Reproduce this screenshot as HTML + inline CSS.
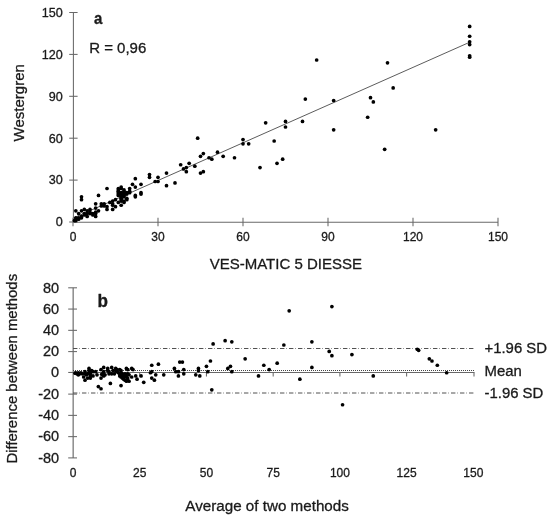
<!DOCTYPE html>
<html lang="en"><head><meta charset="utf-8"><title>Figure</title>
<style>html,body{margin:0;padding:0;background:#fff}body{width:550px;height:519px;overflow:hidden}</style></head>
<body>
<svg width="550" height="519" viewBox="0 0 550 519" style="display:block">
<rect width="550" height="519" fill="#fff"/>
<g stroke="#686868" stroke-width="1.05" fill="none">
<line x1="73.4" y1="12.495000000000005" x2="73.4" y2="222.0"/>
<line x1="73.4" y1="222.25" x2="497.995" y2="222.25"/>
<line x1="69.2" y1="222.00" x2="77.60000000000001" y2="222.00"/>
<line x1="73.00" y1="217.8" x2="73.00" y2="226.2"/>
<line x1="69.2" y1="180.10" x2="77.60000000000001" y2="180.10"/>
<line x1="158.00" y1="217.8" x2="158.00" y2="226.2"/>
<line x1="69.2" y1="138.20" x2="77.60000000000001" y2="138.20"/>
<line x1="243.00" y1="217.8" x2="243.00" y2="226.2"/>
<line x1="69.2" y1="96.30" x2="77.60000000000001" y2="96.30"/>
<line x1="328.00" y1="217.8" x2="328.00" y2="226.2"/>
<line x1="69.2" y1="54.40" x2="77.60000000000001" y2="54.40"/>
<line x1="413.00" y1="217.8" x2="413.00" y2="226.2"/>
<line x1="69.2" y1="12.50" x2="77.60000000000001" y2="12.50"/>
<line x1="498.00" y1="217.8" x2="498.00" y2="226.2"/>
<line x1="74.42" y1="217.60" x2="469.66" y2="42.24" stroke="#4a4a4a" stroke-width="0.9"/>
<line x1="73.15" y1="287.80" x2="73.15" y2="457.90" stroke-width="1.15"/>
<line x1="73.0" y1="372.45" x2="474.5" y2="372.45"/>
<line x1="68.2" y1="457.90" x2="77" y2="457.90"/>
<line x1="68.2" y1="436.64" x2="77" y2="436.64"/>
<line x1="68.2" y1="415.37" x2="77" y2="415.37"/>
<line x1="68.2" y1="394.11" x2="77" y2="394.11"/>
<line x1="68.2" y1="372.45" x2="77" y2="372.45"/>
<line x1="68.2" y1="351.59" x2="77" y2="351.59"/>
<line x1="68.2" y1="330.33" x2="77" y2="330.33"/>
<line x1="68.2" y1="309.06" x2="77" y2="309.06"/>
<line x1="68.2" y1="287.80" x2="77" y2="287.80"/>
<line x1="139.72" y1="372.45" x2="139.72" y2="376.45"/>
<line x1="206.45" y1="372.45" x2="206.45" y2="376.45"/>
<line x1="273.18" y1="372.45" x2="273.18" y2="376.45"/>
<line x1="339.90" y1="372.45" x2="339.90" y2="376.45"/>
<line x1="406.62" y1="372.45" x2="406.62" y2="376.45"/>
<line x1="474.00" y1="372.45" x2="474.00" y2="376.45"/>
</g>
<g stroke="#505050" stroke-width="1" fill="none">
<line x1="73.0" y1="348.5" x2="474.5" y2="348.5" stroke-dasharray="4.4 2 0.6 2"/>
<line x1="73.0" y1="393.0" x2="474.5" y2="393.0" stroke-dasharray="4.4 2 0.6 2"/>
<line x1="73.0" y1="370.5" x2="474.5" y2="370.5" stroke-dasharray="1 1" stroke="#444"/>
</g>
<g fill="#000">
<circle cx="74.42" cy="220.60" r="1.85"/>
<circle cx="75.83" cy="220.60" r="1.85"/>
<circle cx="75.83" cy="219.21" r="1.85"/>
<circle cx="75.83" cy="217.81" r="1.85"/>
<circle cx="75.83" cy="210.83" r="1.85"/>
<circle cx="78.67" cy="219.21" r="1.85"/>
<circle cx="78.67" cy="217.81" r="1.85"/>
<circle cx="78.67" cy="213.62" r="1.85"/>
<circle cx="81.50" cy="217.81" r="1.85"/>
<circle cx="81.50" cy="216.41" r="1.85"/>
<circle cx="81.50" cy="210.83" r="1.85"/>
<circle cx="81.50" cy="199.65" r="1.85"/>
<circle cx="81.50" cy="196.86" r="1.85"/>
<circle cx="84.33" cy="215.02" r="1.85"/>
<circle cx="84.33" cy="213.62" r="1.85"/>
<circle cx="84.33" cy="209.43" r="1.85"/>
<circle cx="87.17" cy="216.41" r="1.85"/>
<circle cx="87.17" cy="213.62" r="1.85"/>
<circle cx="87.17" cy="210.83" r="1.85"/>
<circle cx="90.00" cy="213.62" r="1.85"/>
<circle cx="90.00" cy="212.22" r="1.85"/>
<circle cx="90.00" cy="209.43" r="1.85"/>
<circle cx="92.83" cy="215.02" r="1.85"/>
<circle cx="92.83" cy="213.62" r="1.85"/>
<circle cx="95.67" cy="216.41" r="1.85"/>
<circle cx="95.67" cy="213.62" r="1.85"/>
<circle cx="95.67" cy="212.22" r="1.85"/>
<circle cx="95.67" cy="208.03" r="1.85"/>
<circle cx="95.67" cy="203.84" r="1.85"/>
<circle cx="98.50" cy="210.83" r="1.85"/>
<circle cx="98.50" cy="195.46" r="1.85"/>
<circle cx="101.33" cy="205.94" r="1.85"/>
<circle cx="101.33" cy="203.84" r="1.85"/>
<circle cx="104.17" cy="205.94" r="1.85"/>
<circle cx="104.17" cy="203.84" r="1.85"/>
<circle cx="107.00" cy="209.43" r="1.85"/>
<circle cx="107.00" cy="206.64" r="1.85"/>
<circle cx="107.00" cy="188.48" r="1.85"/>
<circle cx="109.83" cy="202.45" r="1.85"/>
<circle cx="112.67" cy="209.43" r="1.85"/>
<circle cx="112.67" cy="205.24" r="1.85"/>
<circle cx="112.67" cy="203.84" r="1.85"/>
<circle cx="112.67" cy="201.05" r="1.85"/>
<circle cx="115.50" cy="206.64" r="1.85"/>
<circle cx="115.50" cy="199.65" r="1.85"/>
<circle cx="118.33" cy="202.45" r="1.85"/>
<circle cx="121.17" cy="205.24" r="1.85"/>
<circle cx="124.00" cy="202.45" r="1.85"/>
<circle cx="118.33" cy="195.46" r="1.85"/>
<circle cx="118.33" cy="194.07" r="1.85"/>
<circle cx="118.33" cy="192.67" r="1.85"/>
<circle cx="118.33" cy="191.27" r="1.85"/>
<circle cx="118.33" cy="189.88" r="1.85"/>
<circle cx="118.33" cy="188.48" r="1.85"/>
<circle cx="121.17" cy="187.08" r="1.85"/>
<circle cx="121.17" cy="188.48" r="1.85"/>
<circle cx="121.17" cy="192.67" r="1.85"/>
<circle cx="121.17" cy="194.07" r="1.85"/>
<circle cx="121.17" cy="195.46" r="1.85"/>
<circle cx="121.17" cy="196.86" r="1.85"/>
<circle cx="121.17" cy="198.26" r="1.85"/>
<circle cx="121.17" cy="199.65" r="1.85"/>
<circle cx="121.17" cy="201.05" r="1.85"/>
<circle cx="124.00" cy="189.88" r="1.85"/>
<circle cx="124.00" cy="191.27" r="1.85"/>
<circle cx="124.00" cy="192.67" r="1.85"/>
<circle cx="124.00" cy="194.07" r="1.85"/>
<circle cx="124.00" cy="195.46" r="1.85"/>
<circle cx="124.00" cy="196.86" r="1.85"/>
<circle cx="124.00" cy="201.05" r="1.85"/>
<circle cx="126.83" cy="192.67" r="1.85"/>
<circle cx="126.83" cy="194.07" r="1.85"/>
<circle cx="126.83" cy="198.26" r="1.85"/>
<circle cx="126.83" cy="199.65" r="1.85"/>
<circle cx="129.67" cy="188.48" r="1.85"/>
<circle cx="129.67" cy="191.27" r="1.85"/>
<circle cx="129.67" cy="192.67" r="1.85"/>
<circle cx="132.50" cy="184.29" r="1.85"/>
<circle cx="135.33" cy="178.70" r="1.85"/>
<circle cx="135.33" cy="187.08" r="1.85"/>
<circle cx="135.33" cy="195.46" r="1.85"/>
<circle cx="135.33" cy="196.86" r="1.85"/>
<circle cx="141.00" cy="184.29" r="1.85"/>
<circle cx="141.00" cy="194.07" r="1.85"/>
<circle cx="141.00" cy="192.67" r="1.85"/>
<circle cx="149.50" cy="174.51" r="1.85"/>
<circle cx="149.50" cy="177.31" r="1.85"/>
<circle cx="155.17" cy="181.50" r="1.85"/>
<circle cx="158.00" cy="181.50" r="1.85"/>
<circle cx="158.00" cy="177.31" r="1.85"/>
<circle cx="166.50" cy="173.12" r="1.85"/>
<circle cx="166.50" cy="185.69" r="1.85"/>
<circle cx="175.00" cy="182.89" r="1.85"/>
<circle cx="180.67" cy="164.74" r="1.85"/>
<circle cx="183.50" cy="168.93" r="1.85"/>
<circle cx="186.33" cy="167.53" r="1.85"/>
<circle cx="186.33" cy="171.72" r="1.85"/>
<circle cx="189.17" cy="163.34" r="1.85"/>
<circle cx="194.83" cy="166.13" r="1.85"/>
<circle cx="197.67" cy="138.20" r="1.85"/>
<circle cx="200.50" cy="156.36" r="1.85"/>
<circle cx="203.33" cy="153.56" r="1.85"/>
<circle cx="200.50" cy="173.12" r="1.85"/>
<circle cx="203.33" cy="171.72" r="1.85"/>
<circle cx="209.00" cy="157.75" r="1.85"/>
<circle cx="211.83" cy="159.15" r="1.85"/>
<circle cx="217.50" cy="152.16" r="1.85"/>
<circle cx="223.16" cy="156.36" r="1.85"/>
<circle cx="234.50" cy="157.75" r="1.85"/>
<circle cx="243.00" cy="139.59" r="1.85"/>
<circle cx="243.00" cy="143.78" r="1.85"/>
<circle cx="248.66" cy="143.78" r="1.85"/>
<circle cx="260.00" cy="167.53" r="1.85"/>
<circle cx="265.66" cy="122.83" r="1.85"/>
<circle cx="274.16" cy="140.99" r="1.85"/>
<circle cx="277.00" cy="163.34" r="1.85"/>
<circle cx="282.66" cy="159.15" r="1.85"/>
<circle cx="285.50" cy="121.44" r="1.85"/>
<circle cx="285.50" cy="127.02" r="1.85"/>
<circle cx="302.50" cy="121.44" r="1.85"/>
<circle cx="305.33" cy="99.09" r="1.85"/>
<circle cx="316.66" cy="59.98" r="1.85"/>
<circle cx="333.66" cy="100.49" r="1.85"/>
<circle cx="333.66" cy="129.82" r="1.85"/>
<circle cx="367.66" cy="117.25" r="1.85"/>
<circle cx="370.50" cy="97.69" r="1.85"/>
<circle cx="373.33" cy="101.88" r="1.85"/>
<circle cx="384.66" cy="149.37" r="1.85"/>
<circle cx="387.50" cy="62.78" r="1.85"/>
<circle cx="393.16" cy="87.92" r="1.85"/>
<circle cx="435.66" cy="129.82" r="1.85"/>
<circle cx="469.66" cy="26.46" r="1.85"/>
<circle cx="469.66" cy="36.24" r="1.85"/>
<circle cx="469.66" cy="41.83" r="1.85"/>
<circle cx="469.66" cy="44.62" r="1.85"/>
<circle cx="469.66" cy="55.79" r="1.85"/>
<circle cx="469.66" cy="57.19" r="1.85"/>
<circle cx="75.00" cy="373.26" r="1.85"/>
<circle cx="75.67" cy="372.73" r="1.85"/>
<circle cx="77.00" cy="373.80" r="1.85"/>
<circle cx="78.34" cy="374.86" r="1.85"/>
<circle cx="85.01" cy="380.20" r="1.85"/>
<circle cx="78.34" cy="372.73" r="1.85"/>
<circle cx="79.67" cy="373.80" r="1.85"/>
<circle cx="83.68" cy="377.00" r="1.85"/>
<circle cx="81.01" cy="372.73" r="1.85"/>
<circle cx="82.34" cy="373.80" r="1.85"/>
<circle cx="87.68" cy="378.07" r="1.85"/>
<circle cx="98.36" cy="386.60" r="1.85"/>
<circle cx="101.02" cy="388.74" r="1.85"/>
<circle cx="85.01" cy="373.80" r="1.85"/>
<circle cx="86.34" cy="374.86" r="1.85"/>
<circle cx="90.35" cy="378.07" r="1.85"/>
<circle cx="85.01" cy="371.66" r="1.85"/>
<circle cx="87.68" cy="373.80" r="1.85"/>
<circle cx="90.35" cy="375.93" r="1.85"/>
<circle cx="89.01" cy="372.73" r="1.85"/>
<circle cx="90.35" cy="373.80" r="1.85"/>
<circle cx="93.02" cy="375.93" r="1.85"/>
<circle cx="89.01" cy="370.60" r="1.85"/>
<circle cx="90.35" cy="371.66" r="1.85"/>
<circle cx="89.01" cy="368.46" r="1.85"/>
<circle cx="91.68" cy="370.60" r="1.85"/>
<circle cx="93.02" cy="371.66" r="1.85"/>
<circle cx="97.02" cy="374.86" r="1.85"/>
<circle cx="101.02" cy="378.07" r="1.85"/>
<circle cx="95.69" cy="371.66" r="1.85"/>
<circle cx="110.37" cy="383.40" r="1.85"/>
<circle cx="101.69" cy="374.33" r="1.85"/>
<circle cx="103.69" cy="375.93" r="1.85"/>
<circle cx="103.03" cy="373.26" r="1.85"/>
<circle cx="105.03" cy="374.86" r="1.85"/>
<circle cx="101.02" cy="369.53" r="1.85"/>
<circle cx="103.69" cy="371.66" r="1.85"/>
<circle cx="121.04" cy="385.54" r="1.85"/>
<circle cx="109.03" cy="373.80" r="1.85"/>
<circle cx="103.69" cy="367.39" r="1.85"/>
<circle cx="107.70" cy="370.60" r="1.85"/>
<circle cx="109.03" cy="371.66" r="1.85"/>
<circle cx="111.70" cy="373.80" r="1.85"/>
<circle cx="107.70" cy="368.46" r="1.85"/>
<circle cx="114.37" cy="373.80" r="1.85"/>
<circle cx="113.03" cy="370.60" r="1.85"/>
<circle cx="111.70" cy="367.39" r="1.85"/>
<circle cx="115.70" cy="368.46" r="1.85"/>
<circle cx="119.71" cy="375.93" r="1.85"/>
<circle cx="121.04" cy="377.00" r="1.85"/>
<circle cx="122.38" cy="378.07" r="1.85"/>
<circle cx="123.71" cy="379.13" r="1.85"/>
<circle cx="125.05" cy="380.20" r="1.85"/>
<circle cx="126.38" cy="381.27" r="1.85"/>
<circle cx="129.05" cy="381.27" r="1.85"/>
<circle cx="127.71" cy="380.20" r="1.85"/>
<circle cx="123.71" cy="377.00" r="1.85"/>
<circle cx="122.38" cy="375.93" r="1.85"/>
<circle cx="121.04" cy="374.86" r="1.85"/>
<circle cx="119.71" cy="373.80" r="1.85"/>
<circle cx="118.37" cy="372.73" r="1.85"/>
<circle cx="117.04" cy="371.66" r="1.85"/>
<circle cx="115.70" cy="370.60" r="1.85"/>
<circle cx="127.71" cy="378.07" r="1.85"/>
<circle cx="126.38" cy="377.00" r="1.85"/>
<circle cx="125.05" cy="375.93" r="1.85"/>
<circle cx="123.71" cy="374.86" r="1.85"/>
<circle cx="122.38" cy="373.80" r="1.85"/>
<circle cx="121.04" cy="372.73" r="1.85"/>
<circle cx="117.04" cy="369.53" r="1.85"/>
<circle cx="126.38" cy="374.86" r="1.85"/>
<circle cx="125.05" cy="373.80" r="1.85"/>
<circle cx="121.04" cy="370.60" r="1.85"/>
<circle cx="119.71" cy="369.53" r="1.85"/>
<circle cx="131.72" cy="377.00" r="1.85"/>
<circle cx="129.05" cy="374.86" r="1.85"/>
<circle cx="127.71" cy="373.80" r="1.85"/>
<circle cx="137.06" cy="379.13" r="1.85"/>
<circle cx="143.73" cy="382.33" r="1.85"/>
<circle cx="135.72" cy="375.93" r="1.85"/>
<circle cx="127.71" cy="369.53" r="1.85"/>
<circle cx="126.38" cy="368.46" r="1.85"/>
<circle cx="141.06" cy="375.93" r="1.85"/>
<circle cx="131.72" cy="368.46" r="1.85"/>
<circle cx="133.05" cy="369.53" r="1.85"/>
<circle cx="154.40" cy="380.20" r="1.85"/>
<circle cx="151.74" cy="378.07" r="1.85"/>
<circle cx="150.40" cy="372.73" r="1.85"/>
<circle cx="151.74" cy="371.66" r="1.85"/>
<circle cx="155.74" cy="374.86" r="1.85"/>
<circle cx="163.75" cy="374.86" r="1.85"/>
<circle cx="151.74" cy="365.26" r="1.85"/>
<circle cx="158.41" cy="364.19" r="1.85"/>
<circle cx="178.43" cy="375.93" r="1.85"/>
<circle cx="175.76" cy="371.66" r="1.85"/>
<circle cx="178.43" cy="371.66" r="1.85"/>
<circle cx="174.42" cy="368.46" r="1.85"/>
<circle cx="183.76" cy="373.80" r="1.85"/>
<circle cx="183.76" cy="369.53" r="1.85"/>
<circle cx="211.79" cy="389.81" r="1.85"/>
<circle cx="195.77" cy="374.86" r="1.85"/>
<circle cx="199.78" cy="375.93" r="1.85"/>
<circle cx="179.76" cy="362.06" r="1.85"/>
<circle cx="182.43" cy="362.06" r="1.85"/>
<circle cx="198.44" cy="370.60" r="1.85"/>
<circle cx="198.44" cy="368.46" r="1.85"/>
<circle cx="207.78" cy="371.66" r="1.85"/>
<circle cx="206.45" cy="366.33" r="1.85"/>
<circle cx="210.45" cy="360.99" r="1.85"/>
<circle cx="231.81" cy="371.66" r="1.85"/>
<circle cx="227.80" cy="368.46" r="1.85"/>
<circle cx="230.47" cy="366.33" r="1.85"/>
<circle cx="213.12" cy="343.92" r="1.85"/>
<circle cx="258.50" cy="375.93" r="1.85"/>
<circle cx="245.15" cy="358.86" r="1.85"/>
<circle cx="225.13" cy="340.71" r="1.85"/>
<circle cx="231.81" cy="341.78" r="1.85"/>
<circle cx="269.17" cy="369.53" r="1.85"/>
<circle cx="263.83" cy="365.26" r="1.85"/>
<circle cx="277.18" cy="363.13" r="1.85"/>
<circle cx="299.87" cy="379.13" r="1.85"/>
<circle cx="342.57" cy="404.75" r="1.85"/>
<circle cx="311.88" cy="367.39" r="1.85"/>
<circle cx="283.85" cy="344.98" r="1.85"/>
<circle cx="311.88" cy="341.78" r="1.85"/>
<circle cx="331.89" cy="355.65" r="1.85"/>
<circle cx="329.22" cy="351.39" r="1.85"/>
<circle cx="289.19" cy="310.83" r="1.85"/>
<circle cx="373.26" cy="375.93" r="1.85"/>
<circle cx="351.91" cy="354.59" r="1.85"/>
<circle cx="331.89" cy="306.56" r="1.85"/>
<circle cx="446.66" cy="372.73" r="1.85"/>
<circle cx="437.32" cy="365.26" r="1.85"/>
<circle cx="431.98" cy="360.99" r="1.85"/>
<circle cx="429.31" cy="358.86" r="1.85"/>
<circle cx="418.64" cy="350.32" r="1.85"/>
<circle cx="417.30" cy="349.25" r="1.85"/>
</g>
<g fill="#1a1a1a" stroke="#1a1a1a" stroke-width="0.3" stroke-linejoin="round" font-family="'Liberation Sans', Arial, sans-serif">
<text x="62.7" y="226.35" font-size="12.6" text-anchor="end">0</text>
<text x="73.00" y="241.3" font-size="12" text-anchor="middle">0</text>
<text x="62.7" y="184.45" font-size="12.6" text-anchor="end">30</text>
<text x="158.00" y="241.3" font-size="12" text-anchor="middle">30</text>
<text x="62.7" y="142.55" font-size="12.6" text-anchor="end">60</text>
<text x="243.00" y="241.3" font-size="12" text-anchor="middle">60</text>
<text x="62.7" y="100.65" font-size="12.6" text-anchor="end">90</text>
<text x="328.00" y="241.3" font-size="12" text-anchor="middle">90</text>
<text x="62.7" y="58.75" font-size="12.6" text-anchor="end">120</text>
<text x="413.00" y="241.3" font-size="12" text-anchor="middle">120</text>
<text x="62.7" y="16.85" font-size="12.6" text-anchor="end">150</text>
<text x="498.00" y="241.3" font-size="12" text-anchor="middle">150</text>
<text x="59.1" y="462.70" font-size="14.5" text-anchor="end">-80</text>
<text x="59.1" y="441.44" font-size="14.5" text-anchor="end">-60</text>
<text x="59.1" y="420.17" font-size="14.5" text-anchor="end">-40</text>
<text x="59.1" y="398.91" font-size="14.5" text-anchor="end">-20</text>
<text x="59.1" y="377.25" font-size="14.5" text-anchor="end">0</text>
<text x="59.1" y="356.39" font-size="14.5" text-anchor="end">20</text>
<text x="59.1" y="335.13" font-size="14.5" text-anchor="end">40</text>
<text x="59.1" y="313.86" font-size="14.5" text-anchor="end">60</text>
<text x="59.1" y="292.60" font-size="14.5" text-anchor="end">80</text>
<text x="73.00" y="476.7" font-size="12" text-anchor="middle">0</text>
<text x="139.72" y="476.7" font-size="12" text-anchor="middle">25</text>
<text x="206.45" y="476.7" font-size="12" text-anchor="middle">50</text>
<text x="273.18" y="476.7" font-size="12" text-anchor="middle">75</text>
<text x="339.90" y="476.7" font-size="12" text-anchor="middle">100</text>
<text x="406.62" y="476.7" font-size="12" text-anchor="middle">125</text>
<text x="473.35" y="476.7" font-size="12" text-anchor="middle">150</text>
<text transform="translate(98.1 24.2) scale(0.9 1)" text-anchor="middle" stroke-width="0.35" font-size="16.6" font-weight="bold">a</text>
<text transform="translate(102.8 306.6) scale(0.9 1)" text-anchor="middle" stroke-width="0.35" font-size="19" font-weight="bold">b</text>
<text x="89.2" y="52.6" font-size="15">R = 0,96</text>
<text transform="translate(24.1 102.8) rotate(-90)" font-size="15" text-anchor="middle">Westergren</text>
<text transform="translate(16.5 368.7) rotate(-90)" font-size="14.93" text-anchor="middle">Difference between methods</text>
<text x="285.8" y="269" font-size="15" text-anchor="middle">VES-MATIC 5 DIESSE</text>
<text x="267.1" y="510.9" font-size="15.2" text-anchor="middle">Average of two methods</text>
<text x="484.5" y="353.1" font-size="14.9">+1.96 SD</text>
<text x="484.5" y="375.7" font-size="14.9">Mean</text>
<text x="484.5" y="398.0" font-size="14.9">-1.96 SD</text>
</g>
</svg>
</body></html>
